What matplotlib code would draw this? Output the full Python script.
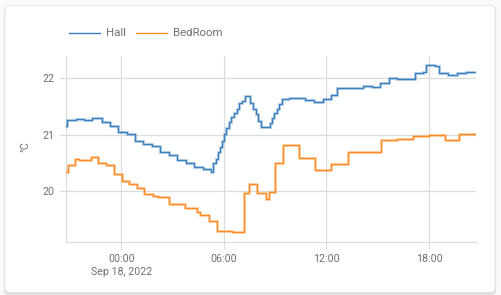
import matplotlib
matplotlib.use("Agg")
import matplotlib.pyplot as plt
from matplotlib.patches import FancyBboxPatch
import numpy as np
import pandas as pd

plt.rcParams['font.family'] = ['Roboto', 'DejaVu Sans']

# Hours relative to Sep 18, 2022 00:00
hall_hours = [-3.25, -3.18, -2.67, -2.16, -1.70, -1.15, -0.66, -0.18, 0.32, 0.78, 1.29, 1.80,
              2.28, 2.79, 3.27, 3.77, 4.27, 4.80, 5.25, 5.38, 5.52, 5.64, 5.75, 5.87, 6.01,
              6.14, 6.28, 6.43, 6.57, 6.75, 6.90, 7.04, 7.22, 7.53, 7.72, 7.86, 7.99, 8.19,
              8.70, 8.81, 8.93, 9.09, 9.24, 9.38, 9.81, 10.76, 11.27, 11.78, 12.28, 12.63,
              13.65, 14.15, 14.66, 15.15, 15.64, 16.14, 16.65, 17.16, 17.66, 17.84, 18.35,
              18.60, 19.11, 19.61, 20.14, 20.75]
hall_values = [21.15, 21.26, 21.27, 21.26, 21.30, 21.23, 21.16, 21.05, 21.01, 20.89, 20.83, 20.79,
               20.70, 20.63, 20.55, 20.50, 20.42, 20.39, 20.34, 20.49, 20.57, 20.70, 20.78, 20.88, 21.02,
               21.12, 21.22, 21.32, 21.38, 21.45, 21.56, 21.60, 21.69, 21.56, 21.45, 21.36, 21.25, 21.14,
               21.20, 21.29, 21.38, 21.45, 21.54, 21.63, 21.65, 21.61, 21.58, 21.63, 21.70, 21.82,
               21.83, 21.86, 21.84, 21.92, 22.00, 21.98, 21.99, 22.09, 22.12, 22.24, 22.21,
               22.09, 22.05, 22.09, 22.11, 22.11]

bed_hours = [-3.25, -3.10, -2.73, -2.46, -1.79, -1.38, -0.89, -0.44, 0.04, 0.43, 0.94, 1.33,
             1.84, 2.15, 2.81, 3.73, 4.44, 4.60, 5.15, 5.58, 6.49, 7.19, 7.47, 7.95, 8.44,
             8.65, 8.99, 9.46, 10.39, 11.33, 12.28, 13.24, 15.17, 16.11, 17.08, 18.01, 18.95,
             19.73, 20.75]
bed_values = [20.34, 20.46, 20.56, 20.55, 20.60, 20.50, 20.47, 20.30, 20.18, 20.12, 20.05, 19.94,
              19.92, 19.89, 19.77, 19.69, 19.62, 19.57, 19.47, 19.29, 19.27, 19.96, 20.12, 19.96, 19.85,
              19.98, 20.49, 20.82, 20.58, 20.37, 20.48, 20.70, 20.90, 20.92, 20.98, 20.99, 20.91,
              21.01, 21.01]

series_names = ["Hall", "BedRoom"]
y_ticks = [20, 21, 22]
x_tick_labels = ["00:00", "06:00", "12:00", "18:00"]

base = pd.Timestamp("2022-09-18 00:00")
def to_time(h):
    return [base + pd.Timedelta(hours=v) for v in h]

W, H = 502, 295
fig = plt.figure(figsize=(W / 100, H / 100), dpi=100)
fig.patch.set_facecolor('#fafafa')

# card with shadow
for i, a in enumerate([0.05, 0.05, 0.06]):
    sh = FancyBboxPatch((5 / W - i * 0.6 / W, 1 - 292.5 / H - (i + 0.8) / H),
                        (490 + i * 1.2) / W, (287 + i * 1.2) / H,
                        boxstyle="round,pad=0,rounding_size=0.012",
                        transform=fig.transFigure, facecolor='black', edgecolor='none',
                        alpha=a, zorder=0)
    fig.patches.append(sh)
card = FancyBboxPatch((5 / W, 1 - 292.5 / H), 490 / W, 287 / H,
                      boxstyle="round,pad=0,rounding_size=0.012",
                      transform=fig.transFigure, facecolor='white', edgecolor='#e6e6e6',
                      linewidth=0.6, zorder=1)
fig.patches.append(card)

left, right, top, bottom = 65.7, 476, 56, 242
ax = fig.add_axes([left / W, 1 - bottom / H, (right - left) / W, (bottom - top) / H])
ax.set_facecolor('none')
ax.set_zorder(2)

xmin = base + pd.Timedelta(hours=-3.25)
xmax = base + pd.Timedelta(hours=20.75)

colors = ['#3a80bf', '#ff8a22']
for name, hrs, vals, c in [(series_names[0], hall_hours, hall_values, colors[0]),
                           (series_names[1], bed_hours, bed_values, colors[1])]:
    t = to_time(hrs)
    ax.step(t, vals, where='post', color=c, lw=2.2, alpha=0.28, zorder=3,
            solid_joinstyle='miter')
    ax.step(t, vals, where='post', color=c, lw=1.0, zorder=4, label=name,
            solid_joinstyle='miter')

ax.set_xlim(xmin, xmax)
ymin = 20 - (bottom - 191) / 56.35
ymax = 22 + (78.3 - top) / 56.35
ax.set_ylim(ymin, ymax)

ax.set_yticks(y_ticks)
ax.set_yticklabels([str(v) for v in y_ticks])
xt = [base + pd.Timedelta(hours=h) for h in [0, 6, 12, 18]]
ax.set_xticks(xt)
ax.set_xticklabels(x_tick_labels)

gc = '#dcdcdc'
ax.grid(True, color=gc, lw=0.9)
ax.set_axisbelow(True)
for s in ['top', 'right']:
    ax.spines[s].set_visible(False)
for s in ['left', 'bottom']:
    ax.spines[s].set_color(gc)
    ax.spines[s].set_linewidth(0.9)
ax.tick_params(axis='both', colors=gc, length=5, width=0.9, labelsize=7.7,
               labelcolor='#6f6f6f', pad=3)
ax.tick_params(axis='x', pad=4)

fig.text(122 / W, 1 - 272 / H, "Sep 18, 2022", ha='center', va='center',
         fontsize=7.7, color='#6f6f6f')
fig.text(25.5 / W, 1 - 147 / H, "°C", ha='center', va='center', rotation=90,
         fontsize=7.7, color='#6f6f6f')

leg = ax.legend(loc='center left', bbox_to_anchor=(69 / W, 1 - 33.5 / H),
                bbox_transform=fig.transFigure, ncol=2, frameon=False,
                fontsize=8.2, handlelength=2.7, handletextpad=0.55, columnspacing=0.9,
                labelcolor='#6f6f6f', borderaxespad=0, borderpad=0)

fig.savefig('out.png', dpi=100, facecolor=fig.get_facecolor())
